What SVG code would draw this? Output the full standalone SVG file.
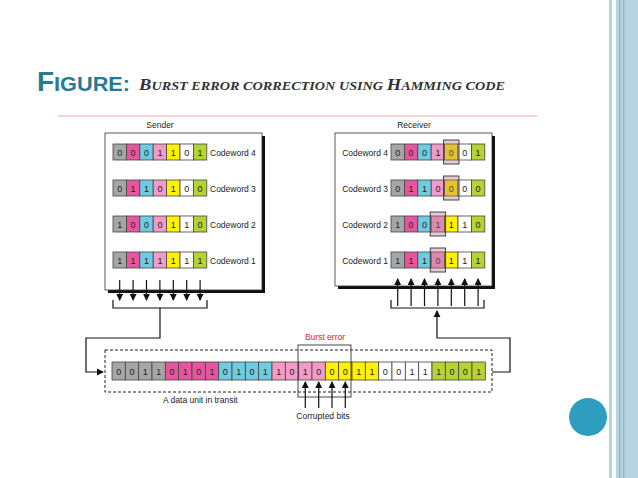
<svg xmlns="http://www.w3.org/2000/svg" width="638" height="478" viewBox="0 0 638 478">
<style>
.t{font-family:"Liberation Sans",Arial,sans-serif;font-size:8.5px;fill:#222}
.b{font-family:"Liberation Sans",Arial,sans-serif;font-size:9px;fill:#222;text-anchor:middle}
.c{stroke:#444;stroke-width:0.8}
.g{fill:#a6a6a6}.m{fill:#e8559f}.y{fill:#6ecbe0}.p{fill:#f49ac8}.e{fill:#fff200}.w{fill:#fff}.n{fill:#b5d334}
.ln{fill:none;stroke:#111;stroke-width:1.2}
.hl{fill:#b07080;fill-opacity:.35;stroke:#333;stroke-width:0.9}
</style>
<defs>
<marker id="a" viewBox="0 0 8 8" refX="7" refY="4" markerWidth="6" markerHeight="6" orient="auto"><path d="M0,0L8,4L0,8z" fill="#111"/></marker>
<g id="c7">
<rect class="c g" x="0" width="13.4" height="16"/><rect class="c m" x="13.4" width="13.4" height="16"/><rect class="c y" x="26.8" width="13.4" height="16"/><rect class="c p" x="40.2" width="13.4" height="16"/><rect class="c e" x="53.6" width="13.4" height="16"/><rect class="c w" x="67" width="13.4" height="16"/><rect class="c n" x="80.4" width="13.4" height="16"/>
</g>
</defs>
<rect width="638" height="478" fill="#fff"/>
<rect x="609" y="0" width="3" height="478" fill="#b8d4e0"/>
<rect x="616" y="0" width="22" height="478" fill="#b8d4e0"/>
<rect x="619" y="0" width="1.5" height="478" fill="#94bcd0"/>
<rect x="623" y="0" width="1.5" height="478" fill="#94bcd0"/>
<circle cx="588" cy="417" r="19" fill="#2e9ec0"/>
<text x="37" y="91" font-family="Liberation Sans,Arial,sans-serif" font-weight="bold" fill="#267a95" textLength="93" lengthAdjust="spacingAndGlyphs"><tspan font-size="27">F</tspan><tspan font-size="21">IGURE:</tspan></text>
<text x="139" y="90" font-family="Liberation Serif,Times New Roman,serif" font-weight="bold" font-style="italic" fill="#333" textLength="366" lengthAdjust="spacingAndGlyphs"><tspan font-size="17">B</tspan><tspan font-size="13">URST ERROR CORRECTION USING </tspan><tspan font-size="17">H</tspan><tspan font-size="13">AMMING CODE</tspan></text>
<line x1="58" y1="116" x2="537" y2="116" stroke="#f4a6a6" stroke-width="1.2"/>

<g id="sender">
<text class="t" x="160" y="128" text-anchor="middle">Sender</text>
<rect x="108" y="136" width="157" height="157" fill="#111"/>
<rect x="105" y="133" width="157" height="157" fill="#fff" stroke="#333" stroke-width="0.8"/>
<g transform="translate(113,144)"><use href="#c7"/><text class="b" y="11.5"><tspan x="6.7">0</tspan><tspan x="20.1">0</tspan><tspan x="33.5">0</tspan><tspan x="46.9">1</tspan><tspan x="60.3">1</tspan><tspan x="73.7">0</tspan><tspan x="87.1">1</tspan></text><text class="t" x="97" y="11.5">Codeword 4</text></g>
<g transform="translate(113,180)"><use href="#c7"/><text class="b" y="11.5"><tspan x="6.7">0</tspan><tspan x="20.1">1</tspan><tspan x="33.5">1</tspan><tspan x="46.9">0</tspan><tspan x="60.3">1</tspan><tspan x="73.7">0</tspan><tspan x="87.1">0</tspan></text><text class="t" x="97" y="11.5">Codeword 3</text></g>
<g transform="translate(113,216)"><use href="#c7"/><text class="b" y="11.5"><tspan x="6.7">1</tspan><tspan x="20.1">0</tspan><tspan x="33.5">0</tspan><tspan x="46.9">0</tspan><tspan x="60.3">1</tspan><tspan x="73.7">1</tspan><tspan x="87.1">0</tspan></text><text class="t" x="97" y="11.5">Codeword 2</text></g>
<g transform="translate(113,252)"><use href="#c7"/><text class="b" y="11.5"><tspan x="6.7">1</tspan><tspan x="20.1">1</tspan><tspan x="33.5">1</tspan><tspan x="46.9">1</tspan><tspan x="60.3">1</tspan><tspan x="73.7">1</tspan><tspan x="87.1">1</tspan></text><text class="t" x="97" y="11.5">Codeword 1</text></g>
</g>

<g id="receiver">
<text class="t" x="414" y="128" text-anchor="middle">Receiver</text>
<rect x="338" y="136" width="157" height="153" fill="#111"/>
<rect x="335" y="133" width="157" height="153" fill="#fff" stroke="#333" stroke-width="0.8"/>
<g transform="translate(391,144)"><use href="#c7"/><text class="b" y="11.5"><tspan x="6.7">0</tspan><tspan x="20.1">0</tspan><tspan x="33.5">0</tspan><tspan x="46.9">1</tspan><tspan x="60.3">0</tspan><tspan x="73.7">0</tspan><tspan x="87.1">1</tspan></text><text class="t" x="-3" y="11.5" text-anchor="end">Codeword 4</text><rect class="hl" x="52.6" y="-4" width="15.4" height="24"/></g>
<g transform="translate(391,180)"><use href="#c7"/><text class="b" y="11.5"><tspan x="6.7">0</tspan><tspan x="20.1">1</tspan><tspan x="33.5">1</tspan><tspan x="46.9">0</tspan><tspan x="60.3">0</tspan><tspan x="73.7">0</tspan><tspan x="87.1">0</tspan></text><text class="t" x="-3" y="11.5" text-anchor="end">Codeword 3</text><rect class="hl" x="52.6" y="-4" width="15.4" height="24"/></g>
<g transform="translate(391,216)"><use href="#c7"/><text class="b" y="11.5"><tspan x="6.7">1</tspan><tspan x="20.1">0</tspan><tspan x="33.5">0</tspan><tspan x="46.9">1</tspan><tspan x="60.3">1</tspan><tspan x="73.7">1</tspan><tspan x="87.1">0</tspan></text><text class="t" x="-3" y="11.5" text-anchor="end">Codeword 2</text><rect class="hl" x="39.2" y="-4" width="15.4" height="24"/></g>
<g transform="translate(391,252)"><use href="#c7"/><text class="b" y="11.5"><tspan x="6.7">1</tspan><tspan x="20.1">1</tspan><tspan x="33.5">1</tspan><tspan x="46.9">0</tspan><tspan x="60.3">1</tspan><tspan x="73.7">1</tspan><tspan x="87.1">1</tspan></text><text class="t" x="-3" y="11.5" text-anchor="end">Codeword 1</text><rect class="hl" x="39.2" y="-4" width="15.4" height="24"/></g>
</g>

<g id="transit">
<rect x="105" y="350" width="387" height="42" fill="none" stroke="#222" stroke-width="1" stroke-dasharray="3,2"/>
<g transform="translate(112,362)">
<g class="c"><rect class="g" x="0" width="13.33" height="18"/><rect class="g" x="13.33" width="13.33" height="18"/><rect class="g" x="26.67" width="13.33" height="18"/><rect class="g" x="40" width="13.33" height="18"/>
<rect class="m" x="53.33" width="13.33" height="18"/><rect class="m" x="66.67" width="13.33" height="18"/><rect class="m" x="80" width="13.33" height="18"/><rect class="m" x="93.33" width="13.33" height="18"/>
<rect class="y" x="106.67" width="13.33" height="18"/><rect class="y" x="120" width="13.33" height="18"/><rect class="y" x="133.33" width="13.33" height="18"/><rect class="y" x="146.67" width="13.33" height="18"/>
<rect class="p" x="160" width="13.33" height="18"/><rect class="p" x="173.33" width="13.33" height="18"/><rect class="p" x="186.67" width="13.33" height="18"/><rect class="p" x="200" width="13.33" height="18"/>
<rect class="e" x="213.33" width="13.33" height="18"/><rect class="e" x="226.67" width="13.33" height="18"/><rect class="e" x="240" width="13.33" height="18"/><rect class="e" x="253.33" width="13.33" height="18"/>
<rect class="w" x="266.67" width="13.33" height="18"/><rect class="w" x="280" width="13.33" height="18"/><rect class="w" x="293.33" width="13.33" height="18"/><rect class="w" x="306.67" width="13.33" height="18"/>
<rect class="n" x="320" width="13.33" height="18"/><rect class="n" x="333.33" width="13.33" height="18"/><rect class="n" x="346.67" width="13.33" height="18"/><rect class="n" x="360" width="13.33" height="18"/></g>
<text class="b" y="12.5"><tspan x="6.7">0</tspan><tspan x="20">0</tspan><tspan x="33.3">1</tspan><tspan x="46.7">1</tspan><tspan x="60">0</tspan><tspan x="73.3">1</tspan><tspan x="86.7">0</tspan><tspan x="100">1</tspan><tspan x="113.3">0</tspan><tspan x="126.7">1</tspan><tspan x="140">0</tspan><tspan x="153.3">1</tspan><tspan x="166.7">1</tspan><tspan x="180">0</tspan><tspan x="193.3">1</tspan><tspan x="206.7">0</tspan><tspan x="220">0</tspan><tspan x="233.3">0</tspan><tspan x="246.7">1</tspan><tspan x="260">1</tspan><tspan x="273.3">0</tspan><tspan x="286.7">0</tspan><tspan x="300">1</tspan><tspan x="313.3">1</tspan><tspan x="326.7">1</tspan><tspan x="340">0</tspan><tspan x="353.3">0</tspan><tspan x="366.7">1</tspan></text>
</g>
<text class="t" x="163" y="403">A data unit in transit</text>
</g>

<g id="burst">
<rect x="298" y="345" width="53" height="52" fill="none" stroke="#333" stroke-width="0.9"/>
<text class="t" x="325" y="340" text-anchor="middle" style="fill:#e0202a">Burst error</text>
<text class="t" x="323" y="419" text-anchor="middle">Corrupted bits</text>
</g>

<g id="connectors" class="ln">
<path d="M113,300V308H207V300M160,308V338H86V372H103" marker-end="url(#a)"/>
<path d="M391,300V308H484V300"/>
<path d="M492,372H510V338H437V311" marker-end="url(#a)"/>
<g marker-end="url(#a)">
<path d="M119.7,280V300"/><path d="M133.1,280V300"/><path d="M146.5,280V300"/><path d="M159.9,280V300"/><path d="M173.3,280V300"/><path d="M186.7,280V300"/><path d="M200.1,280V300"/>
<path d="M397.7,306V279"/><path d="M411.1,306V279"/><path d="M424.5,306V279"/><path d="M437.9,306V279"/><path d="M451.3,306V279"/><path d="M464.7,306V279"/><path d="M478.1,306V279"/>
<path d="M305.3,408V382"/><path d="M318.7,408V382"/><path d="M332,408V382"/><path d="M345.3,408V382"/>
</g>
</g>
</svg>
